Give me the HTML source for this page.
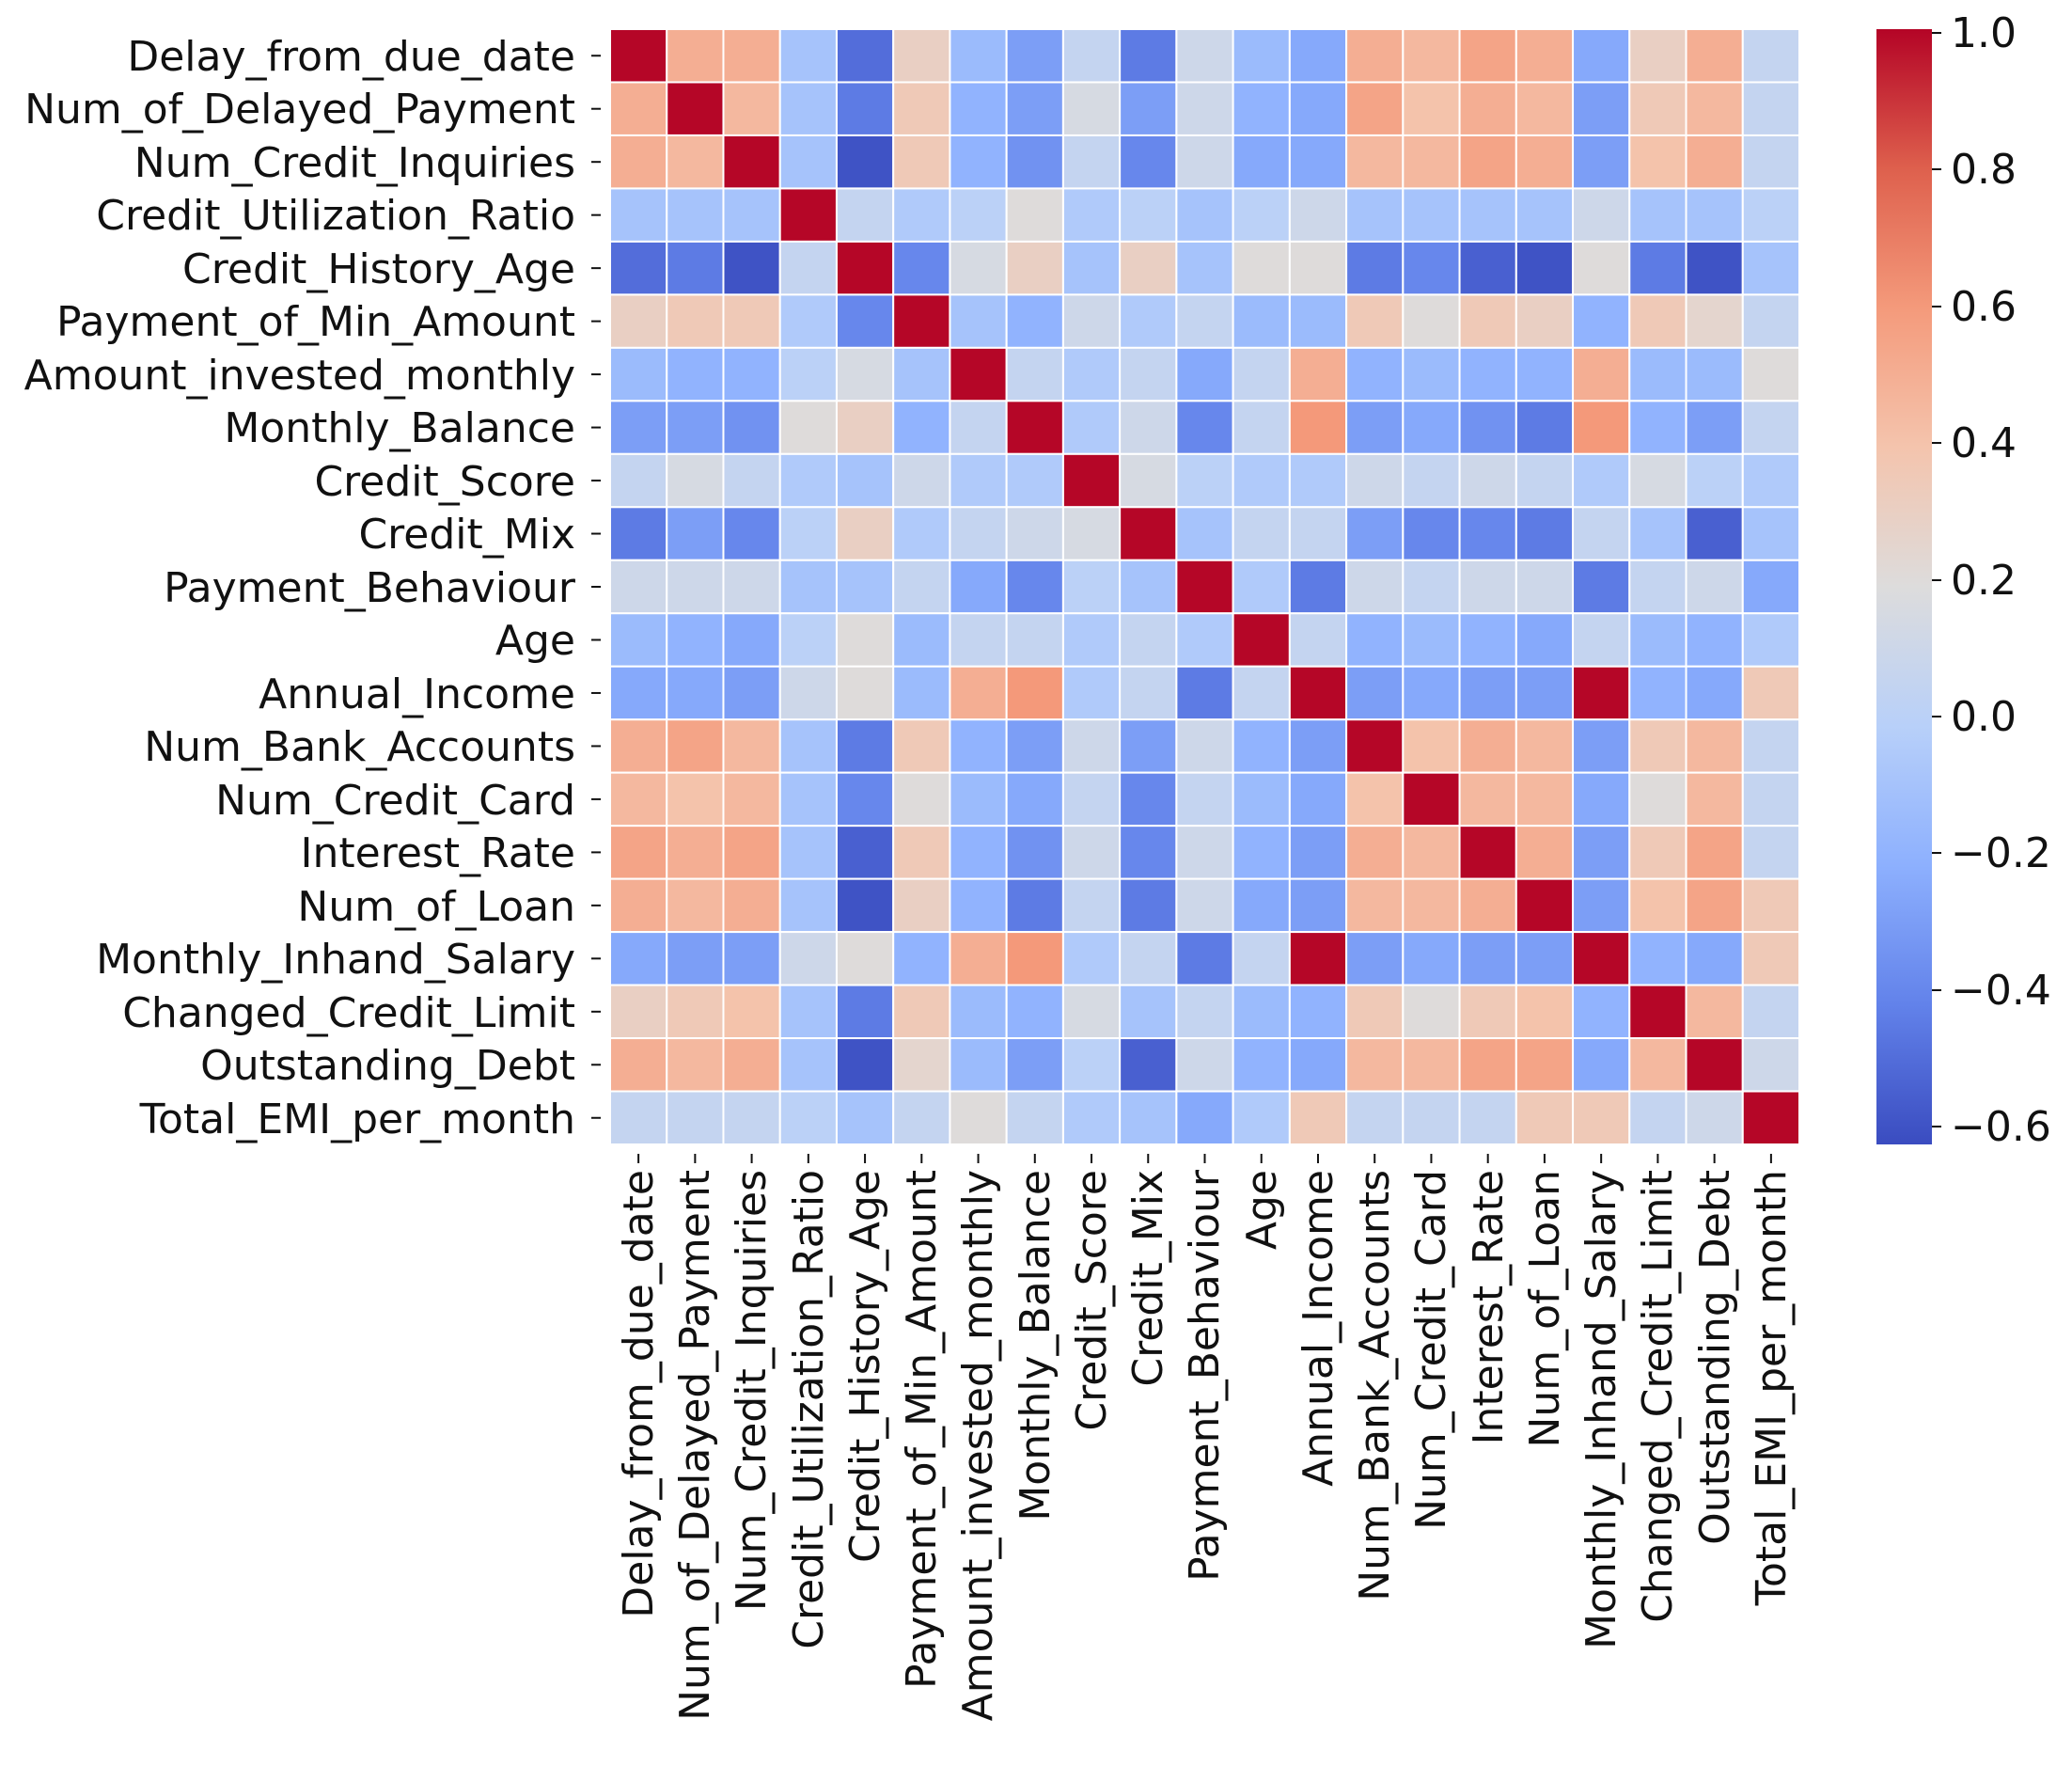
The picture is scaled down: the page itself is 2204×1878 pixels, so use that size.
<!DOCTYPE html>
<html><head><meta charset="utf-8">
<style>
html,body{margin:0;padding:0;background:#fff;}
svg text{font-family:"DejaVu Sans","Liberation Sans",sans-serif;font-size:44px;fill:#111;}
</style></head>
<body>
<svg id="s" width="2204" height="1873" xmlns="http://www.w3.org/2000/svg">
<defs>
<linearGradient id="cb" x1="0" y1="1" x2="0" y2="0">
<stop offset="0" stop-color="rgb(58,76,192)"/>
<stop offset="0.125" stop-color="rgb(98,130,234)"/>
<stop offset="0.25" stop-color="rgb(141,176,254)"/>
<stop offset="0.375" stop-color="rgb(184,208,249)"/>
<stop offset="0.5" stop-color="rgb(221,220,220)"/>
<stop offset="0.625" stop-color="rgb(244,196,173)"/>
<stop offset="0.75" stop-color="rgb(244,154,123)"/>
<stop offset="0.875" stop-color="rgb(222,96,77)"/>
<stop offset="1" stop-color="rgb(180,4,38)"/>
</linearGradient>
</defs>
<g id="cells"></g>
<rect x="1996" y="31" width="59" height="1186" fill="url(#cb)"/>
<g stroke="#111" stroke-width="2">
<line x1="2055" y1="35" x2="2065" y2="35"/><line x1="2055" y1="180" x2="2065" y2="180"/>
<line x1="2055" y1="326" x2="2065" y2="326"/><line x1="2055" y1="471" x2="2065" y2="471"/>
<line x1="2055" y1="617" x2="2065" y2="617"/><line x1="2055" y1="762" x2="2065" y2="762"/>
<line x1="2055" y1="907" x2="2065" y2="907"/><line x1="2055" y1="1053" x2="2065" y2="1053"/>
<line x1="2055" y1="1198" x2="2065" y2="1198"/>
</g>
<g>
<text x="2075" y="50">1.0</text><text x="2075" y="195">0.8</text>
<text x="2075" y="341">0.6</text><text x="2075" y="486">0.4</text>
<text x="2075" y="632">0.2</text><text x="2075" y="777">0.0</text>
<text x="2075" y="922">−0.2</text><text x="2075" y="1068">−0.4</text>
<text x="2075" y="1213">−0.6</text>
</g>
<g id="ticks" stroke="#111" stroke-width="2"></g>
<g text-anchor="end">
<text x="612" y="75">Delay_from_due_date</text>
<text x="612" y="131">Num_of_Delayed_Payment</text>
<text x="612" y="188">Num_Credit_Inquiries</text>
<text x="612" y="244">Credit_Utilization_Ratio</text>
<text x="612" y="301">Credit_History_Age</text>
<text x="612" y="357">Payment_of_Min_Amount</text>
<text x="612" y="414">Amount_invested_monthly</text>
<text x="612" y="470">Monthly_Balance</text>
<text x="612" y="527">Credit_Score</text>
<text x="612" y="583">Credit_Mix</text>
<text x="612" y="640">Payment_Behaviour</text>
<text x="612" y="696">Age</text>
<text x="612" y="753">Annual_Income</text>
<text x="612" y="809">Num_Bank_Accounts</text>
<text x="612" y="866">Num_Credit_Card</text>
<text x="612" y="922">Interest_Rate</text>
<text x="612" y="979">Num_of_Loan</text>
<text x="612" y="1035">Monthly_Inhand_Salary</text>
<text x="612" y="1092">Changed_Credit_Limit</text>
<text x="612" y="1148">Outstanding_Debt</text>
<text x="612" y="1205">Total_EMI_per_month</text>
</g>
<g text-anchor="end">
<text transform="translate(694,1244) rotate(-90)">Delay_from_due_date</text>
<text transform="translate(754,1244) rotate(-90)">Num_of_Delayed_Payment</text>
<text transform="translate(814,1244) rotate(-90)">Num_Credit_Inquiries</text>
<text transform="translate(875,1244) rotate(-90)">Credit_Utilization_Ratio</text>
<text transform="translate(935,1244) rotate(-90)">Credit_History_Age</text>
<text transform="translate(995,1244) rotate(-90)">Payment_of_Min_Amount</text>
<text transform="translate(1055,1244) rotate(-90)">Amount_invested_monthly</text>
<text transform="translate(1116,1244) rotate(-90)">Monthly_Balance</text>
<text transform="translate(1176,1244) rotate(-90)">Credit_Score</text>
<text transform="translate(1236,1244) rotate(-90)">Credit_Mix</text>
<text transform="translate(1296,1244) rotate(-90)">Payment_Behaviour</text>
<text transform="translate(1357,1244) rotate(-90)">Age</text>
<text transform="translate(1417,1244) rotate(-90)">Annual_Income</text>
<text transform="translate(1477,1244) rotate(-90)">Num_Bank_Accounts</text>
<text transform="translate(1537,1244) rotate(-90)">Num_Credit_Card</text>
<text transform="translate(1598,1244) rotate(-90)">Interest_Rate</text>
<text transform="translate(1658,1244) rotate(-90)">Num_of_Loan</text>
<text transform="translate(1718,1244) rotate(-90)">Monthly_Inhand_Salary</text>
<text transform="translate(1778,1244) rotate(-90)">Changed_Credit_Limit</text>
<text transform="translate(1839,1244) rotate(-90)">Outstanding_Debt</text>
<text transform="translate(1899,1244) rotate(-90)">Total_EMI_per_month</text>
</g>
</svg>
<script>
var M=[
[1,.5,.5,-.1,-.5,.3,-.15,-.3,.05,-.45,.1,-.15,-.25,.5,.45,.55,.5,-.25,.3,.5,.05],
[.5,1,.45,-.1,-.45,.35,-.2,-.3,.15,-.3,.1,-.2,-.25,.55,.4,.5,.45,-.3,.35,.45,.05],
[.5,.45,1,-.1,-.6,.35,-.2,-.35,.05,-.4,.1,-.25,-.25,.45,.45,.55,.5,-.3,.4,.5,.05],
[-.1,-.1,-.1,1,.05,-.05,0,.2,-.05,0,-.1,0,.1,-.1,-.1,-.1,-.1,.1,-.1,-.1,0],
[-.5,-.45,-.6,.05,1,-.4,.15,.3,-.1,.3,-.1,.2,.2,-.45,-.4,-.55,-.6,.2,-.45,-.6,-.1],
[.3,.35,.35,-.05,-.4,1,-.1,-.2,.1,-.05,.05,-.15,-.15,.35,.2,.35,.3,-.2,.35,.25,.05],
[-.15,-.2,-.2,0,.15,-.1,1,.05,-.05,.05,-.25,.05,.5,-.2,-.15,-.2,-.2,.5,-.15,-.15,.2],
[-.3,-.3,-.35,.2,.3,-.2,.05,1,-.05,.1,-.4,.05,.6,-.3,-.25,-.35,-.45,.6,-.2,-.3,.05],
[.05,.15,.05,-.05,-.1,.1,-.05,-.05,1,.15,0,-.05,-.05,.1,.05,.1,.05,-.05,.15,0,-.05],
[-.45,-.3,-.4,0,.3,-.05,.05,.1,.15,1,-.1,.05,.05,-.3,-.4,-.4,-.45,.05,-.1,-.55,-.1],
[.1,.1,.1,-.1,-.1,.05,-.25,-.4,0,-.1,1,-.05,-.45,.1,.05,.1,.1,-.45,.05,.1,-.25],
[-.15,-.2,-.25,0,.2,-.15,.05,.05,-.05,.05,-.05,1,.05,-.2,-.15,-.2,-.25,.05,-.15,-.2,-.05],
[-.25,-.25,-.3,.1,.2,-.15,.5,.6,-.05,.05,-.45,.05,1,-.3,-.25,-.3,-.3,1,-.2,-.25,.35],
[.5,.55,.45,-.1,-.45,.35,-.2,-.3,.1,-.3,.1,-.2,-.3,1,.4,.5,.45,-.3,.35,.45,.05],
[.45,.4,.45,-.1,-.4,.2,-.15,-.25,.05,-.4,.05,-.15,-.25,.4,1,.45,.45,-.25,.2,.45,.05],
[.55,.5,.55,-.1,-.55,.35,-.2,-.35,.1,-.4,.1,-.2,-.3,.5,.45,1,.5,-.3,.35,.55,.05],
[.5,.45,.5,-.1,-.6,.3,-.2,-.45,.05,-.45,.1,-.25,-.3,.45,.45,.5,1,-.3,.4,.55,.35],
[-.25,-.3,-.3,.1,.2,-.2,.5,.6,-.05,.05,-.45,.05,1,-.3,-.25,-.3,-.3,1,-.2,-.25,.35],
[.3,.35,.4,-.1,-.45,.35,-.15,-.2,.15,-.1,.05,-.15,-.2,.35,.2,.35,.4,-.2,1,.45,.05],
[.5,.45,.5,-.1,-.6,.25,-.15,-.3,0,-.55,.1,-.2,-.25,.45,.45,.55,.55,-.25,.45,1,.1],
[.05,.05,.05,0,-.1,.05,.2,.05,-.05,-.1,-.25,-.05,.35,.05,.05,.05,.35,.35,.05,.1,1]];
var A=[[58,76,192],[98,130,234],[141,176,254],[184,208,249],[221,220,220],[244,196,173],[244,154,123],[222,96,77],[180,4,38]];
function col(v){var t=(v+0.626)/(1.0055+0.626);t=Math.max(0,Math.min(1,t))*8;var i=Math.min(7,Math.floor(t)),f=t-i;
var c=A[i].map(function(a,k){return Math.round(a+(A[i+1][k]-a)*f)});return "rgb("+c.join(",")+")";}
var g=document.getElementById("cells"),tk=document.getElementById("ticks"),ns="http://www.w3.org/2000/svg";
var x0=649,y0=31,cw=1265/21,ch=1186/21;
for(var r=0;r<21;r++)for(var c=0;c<21;c++){var e=document.createElementNS(ns,"rect");
e.setAttribute("x",x0+c*cw);e.setAttribute("y",y0+r*ch);e.setAttribute("width",cw);e.setAttribute("height",ch);
e.setAttribute("fill",col(M[r][c]));e.setAttribute("stroke","#fff");e.setAttribute("stroke-width","2");g.appendChild(e);}
for(var i=0;i<21;i++){var l=document.createElementNS(ns,"line");var y=y0+(i+.5)*ch;
l.setAttribute("x1",629);l.setAttribute("x2",639);l.setAttribute("y1",y);l.setAttribute("y2",y);tk.appendChild(l);
var m=document.createElementNS(ns,"line");var x=x0+(i+.5)*cw;
m.setAttribute("x1",x);m.setAttribute("x2",x);m.setAttribute("y1",1227);m.setAttribute("y2",1237);tk.appendChild(m);}
</script>
</body></html>
